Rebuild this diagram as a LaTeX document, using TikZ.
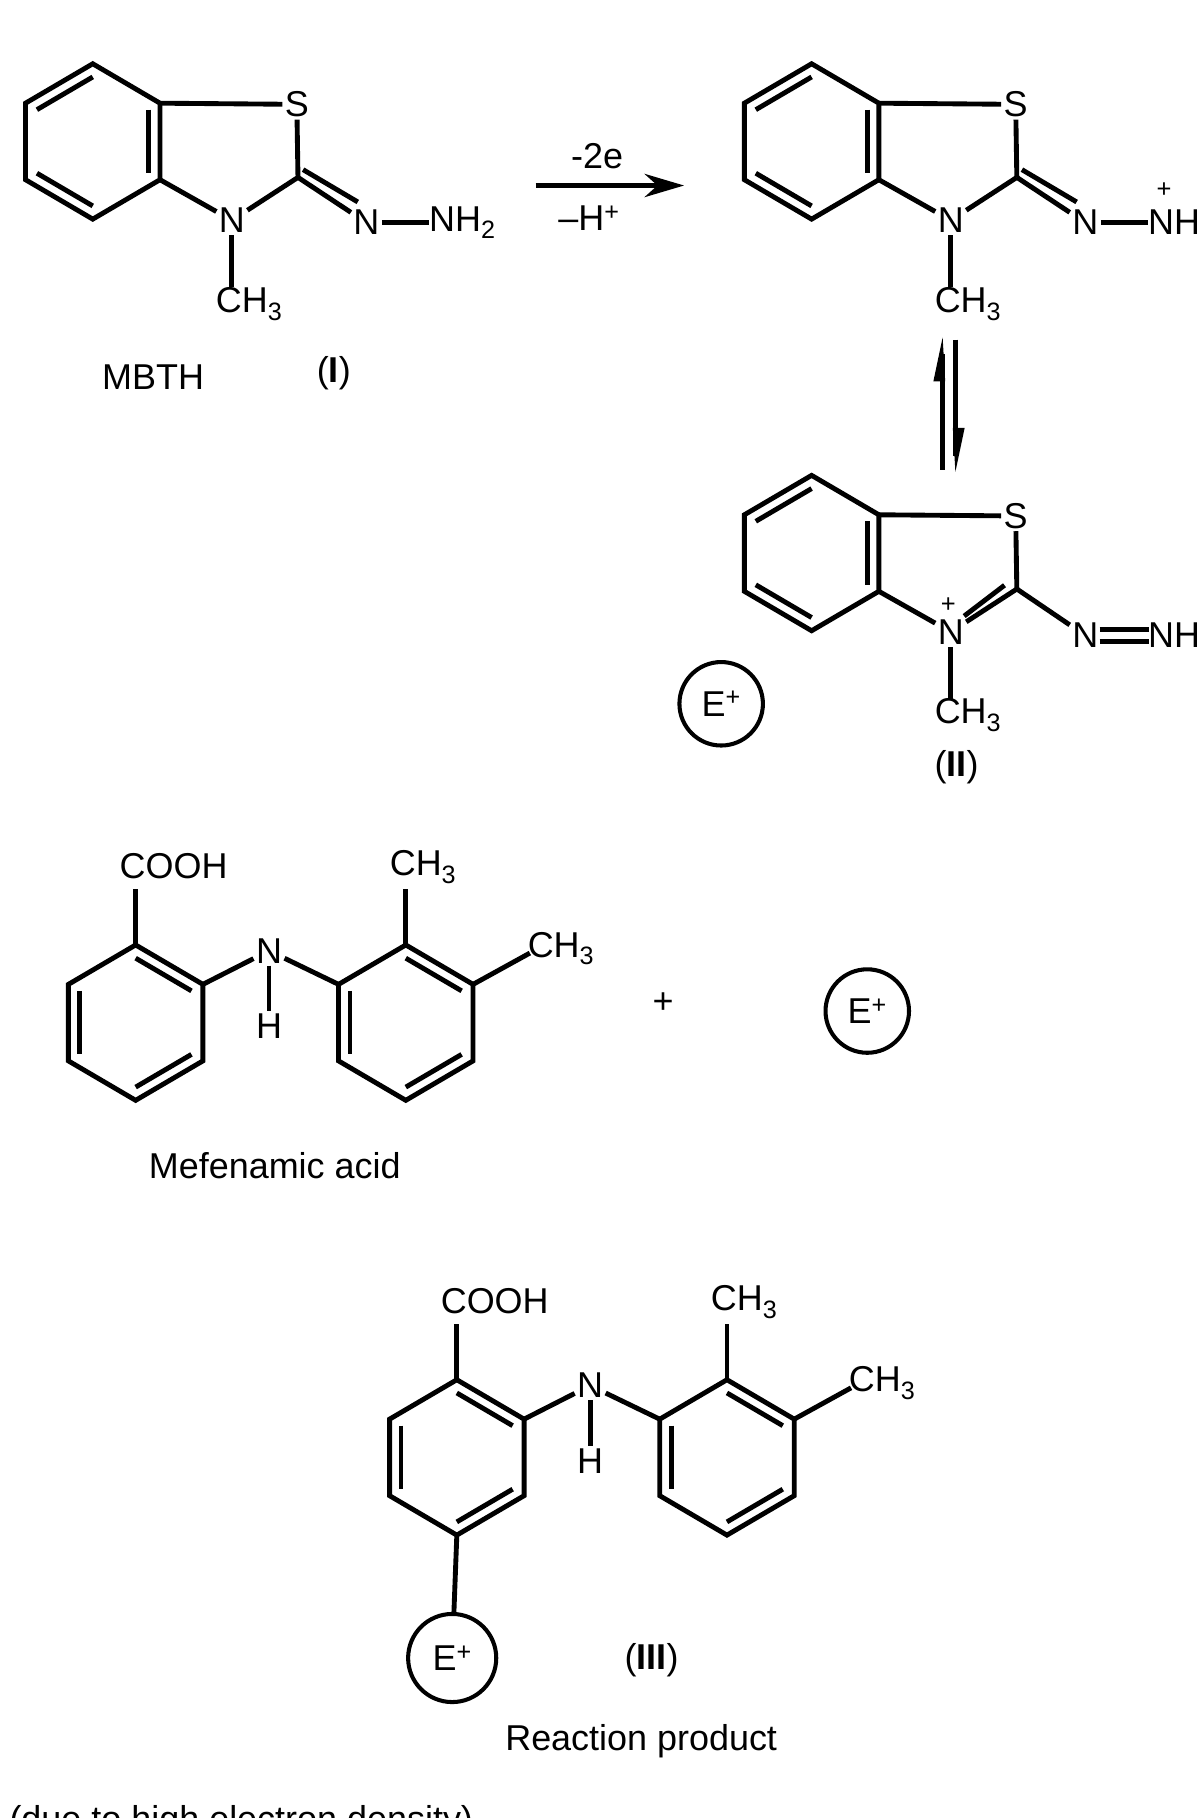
\documentclass[tikz,border=0pt]{standalone}
\usepackage{fontspec}
\setmainfont{Liberation Sans}
\usetikzlibrary{calc,arrows.meta}
\newcommand\bigf{\fontsize{31}{36}\selectfont}
\tikzset{
  bond/.style={line width=4.2pt},
  atom/.style={inner sep=2pt,font=\bigf},
  lbl/.style={inner sep=0pt,font=\bigf},
  ecirc/.style={circle,draw,line width=3.5pt,minimum size=72pt,inner sep=0pt,font=\bigf},
}
\newcommand\inner[3]{\draw[bond] ($(#3)!0.83!(#1)$) -- ($(#3)!0.83!(#2)$);}
\newcommand\hexa[2]{%
  \coordinate (#1-c) at #2;
  \coordinate (#1-t) at ($(#1-c)+(0,-67)$);
  \coordinate (#1-tr) at ($(#1-c)+(58,-33)$);
  \coordinate (#1-br) at ($(#1-c)+(58,33)$);
  \coordinate (#1-b) at ($(#1-c)+(0,67)$);
  \coordinate (#1-bl) at ($(#1-c)+(-58,33)$);
  \coordinate (#1-tl) at ($(#1-c)+(-58,-33)$);
  \draw[bond,line join=miter] (#1-t)--(#1-tr)--(#1-br)--(#1-b)--(#1-bl)--(#1-tl)--cycle;}
\newcommand\btz[3]{%
  \begin{scope}[shift={(#2,#3)}]
  \hexa{#1}{(80,122)}
  \inner{#1-tl}{#1-t}{#1-c}\inner{#1-tr}{#1-br}{#1-c}\inner{#1-bl}{#1-b}{#1-c}
  \node[atom] (#1S) at (256,90) {S};
  \node[atom] (#1N) at (200,190) {N};
  \coordinate (#1C2) at (257,153);
  \coordinate (#1Nc) at (200,188);
  \node[lbl,anchor=west] (#1Me) at (186,262) {CH\textsubscript{3}};
  \draw[bond] (#1-tr) -- (#1S);
  \draw[bond] (#1S) -- (#1C2);
  \draw[bond] (#1N) -- (#1C2);
  \draw[bond] (#1-br) -- (#1N);
  \draw[bond] (#1N) -- (#1N|-#1Me.north);
  \end{scope}}
\newcommand\mefen[3]{%
  \begin{scope}[shift={(#2,#3)}]
  \hexa{#1L}{(117,882)}
  \inner{#1L-t}{#1L-tr}{#1L-c}\inner{#1L-tl}{#1L-bl}{#1L-c}\inner{#1L-br}{#1L-b}{#1L-c}
  \hexa{#1R}{(350,882)}
  \inner{#1R-t}{#1R-tr}{#1R-c}\inner{#1R-tl}{#1R-bl}{#1R-c}\inner{#1R-br}{#1R-b}{#1R-c}
  \node[lbl,anchor=west] (#1CO) at (103,747) {COOH};
  \node[atom] (#1N) at (232,820) {N};
  \node[atom] (#1H) at (232,885) {H};
  \node[lbl,anchor=west] (#1M1) at (336,748) {CH\textsubscript{3}};
  \node[lbl,anchor=west] (#1M2) at (455,818) {CH\textsubscript{3}};
  \draw[bond] (#1L-t) -- ++(0,-48);
  \draw[bond] (#1L-tr) -- (#1N);
  \draw[bond] (#1N) -- (#1R-tl);
  \draw[bond] (#1N) -- (#1H);
  \draw[bond] (#1R-t) -- ++(0,-48);
  \draw[bond] (#1R-tr) -- ($(#1M2.west)+(2,4)$);
  \end{scope}}
\begin{document}
\begin{tikzpicture}[x=1pt,y=-1pt]
\useasboundingbox (0,0) rectangle (1032,1568);
% ---- I
\btz{a}{0}{0}
\node[atom] (aN2) at (316,192) {N};
\node[lbl,anchor=west] (aNH) at (370,192) {NH\textsubscript{2}};
\draw[bond] (aC2) -- (aN2);
\draw[bond] ($(aC2)!8pt!90:(aN2)$) -- ($(aN2.north west)!8pt!-90:(aC2)+(2,2)$);
\draw[bond] (aN2) -- (aNH);
\node[lbl] (mbth) at (132,325) {MBTH};
\node[lbl] (lI) at (288,322) {(\textbf{I})};
% arrow
\coordinate (ar1) at (462,160);
\coordinate (ar2) at (590,160);
\draw[bond,-{Stealth[length=34pt,width=20pt]}] (ar1) -- (ar2);
\node[lbl] (m2e) at (515,135) {-2e};
\node[lbl] (mH) at (508,188) {–H\textsuperscript{+}};
% ---- top right
\btz{b}{620}{0}
\node[atom] (bN2) at (936,192) {N};
\node[lbl,anchor=west] (bNH) at (990,192) {NH};
\node[lbl,font=\fontsize{22}{24}\selectfont] (bplus) at (1004,164) {+};
\draw[bond] (bC2) -- (bN2);
\draw[bond] ($(bC2)!8pt!90:(bN2)$) -- ($(bN2.north west)!8pt!-90:(bC2)+(2,2)$);
\draw[bond] (bN2) -- (bNH);
% equilibrium
\coordinate (e1) at (813,405);
\coordinate (e2) at (813,291);
\coordinate (e3) at (824,293);
\coordinate (e4) at (824,407);
\draw[line width=4.5pt] (e1) -- ($(e2)+(0,14)$);
\fill (e2) -- ++(-8,38) -- ++(10.2,0) -- cycle;
\draw[line width=4.5pt] (e3) -- ($(e4)+(0,-14)$);
\fill (e4) -- ++(8,-38) -- ++(-10.2,0) -- cycle;
% ---- II
\btz{c}{620}{355}
\node[lbl,font=\fontsize{22}{24}\selectfont] (cplus) at (818,522) {+};
\coordinate (cRc) at (818,490);
\draw[bond] ($(cRc)!0.78!(cNc)+(12,0)$) -- ($(cRc)!0.82!(cC2)$);
\node[atom] (cN2) at (936,548) {N};
\node[lbl,anchor=west] (cNH) at (990,548) {NH};
\draw[bond] (cC2) -- (cN2);
\draw[bond] ($(cN2.east)+(-1,-5)$) -- ($(cNH.west)+(1,-5)$);
\draw[bond] ($(cN2.east)+(-1,5)$) -- ($(cNH.west)+(1,5)$);
\node[ecirc] (E1) at (622,607) {E\textsuperscript{+}};
\node[lbl] (lII) at (825,662) {(\textbf{II})};
% ---- Mefenamic acid
\mefen{m}{0}{0}
\node[lbl] (plus) at (572,865) {+};
\node[ecirc] (E2) at (748,872) {E\textsuperscript{+}};
\node[lbl] (mef) at (237,1005) {Mefenamic acid};
% ---- Product III
\mefen{p}{277}{375}
\node[ecirc,minimum size=76pt] (E3) at (390,1430) {E\textsuperscript{+}};
\draw[bond] (pL-b) -- (E3);
\node[lbl] (lIII) at (562,1432) {(\textbf{III})};
\node[lbl] (rp) at (553,1502) {Reaction product};
\node[lbl,anchor=base west] (due) at (8,1580) {(due to high electron density)};
\end{tikzpicture}
\end{document}
